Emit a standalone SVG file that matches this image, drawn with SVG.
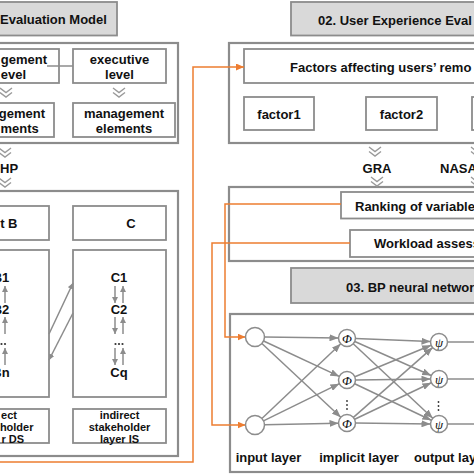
<svg xmlns="http://www.w3.org/2000/svg" width="474" height="474" viewBox="0 0 474 474">
<style>
.box{fill:#fff;stroke:#8c8c8c;stroke-width:1.8}
.outer{fill:none;stroke:#8c8c8c;stroke-width:2.2}
.title{fill:#d9d9d9;stroke:#8c8c8c;stroke-width:1.8}
.t{font-family:"Liberation Sans",Arial,sans-serif;font-weight:bold;font-size:13px;fill:#111}
.s{font-family:"Liberation Sans",Arial,sans-serif;font-weight:bold;font-size:11px;fill:#111}
.m{text-anchor:middle}
.e{text-anchor:end}
.g{font-family:"Liberation Serif","Times New Roman",serif;font-style:italic;font-size:13px;fill:#111;text-anchor:middle}
.ln{fill:none;stroke:#8c8c8c;stroke-width:1.5}
.or{fill:none;stroke:#ed7d31;stroke-width:1.5}
.chev{fill:none;stroke:#9a9a9a;stroke-width:1.4}
.node{fill:#fff;stroke:#8c8c8c;stroke-width:1.5}
.dot{fill:#333}
</style>
<defs>
<marker id="ag" markerUnits="userSpaceOnUse" markerWidth="9" markerHeight="7" refX="9" refY="3.5" orient="auto"><path d="M0,0 L9,3.5 L0,7 z" fill="#8c8c8c"/></marker>
<marker id="as" markerUnits="userSpaceOnUse" markerWidth="6" markerHeight="6" refX="6" refY="3" orient="auto"><path d="M0,0 L6,3 L0,6 z" fill="#8c8c8c"/></marker>
<marker id="ao" markerUnits="userSpaceOnUse" markerWidth="8" markerHeight="7" refX="8" refY="3.5" orient="auto"><path d="M0,0 L8,3.5 L0,7 z" fill="#ed7d31"/></marker>
<g id="chevron"><polyline points="-6,0 0,4.5 6,0"/><polyline points="-6,4.5 0,9 6,4.5"/></g>
</defs>

<!-- Left column -->
<g id="title-left"><rect class="title" x="-3" y="2" width="120" height="33.5"/><text class="t" x="0" y="24">Evaluation Model</text></g>
<rect class="outer" x="-3" y="43" width="181" height="100"/>
<g id="mgmt-level"><rect class="box" x="-50" y="49" width="109" height="34"/><text class="t e" x="47" y="64">gement</text><text class="t e" x="26" y="79">evel</text></g>
<g id="exec-level"><rect class="box" x="73" y="49" width="93" height="34"/><text class="t m" x="119.5" y="64">executive</text><text class="t m" x="119.5" y="79">level</text></g>
<g id="mgmt-elem-left"><rect class="box" x="-50" y="103" width="104" height="34"/><text class="t e" x="45" y="118">gement</text><text class="t" x="0.5" y="133">ments</text></g>
<g id="mgmt-elem-right"><rect class="box" x="73" y="103" width="102" height="34"/><text class="t m" x="124" y="118">management</text><text class="t m" x="124" y="133">elements</text></g>
<text class="t" x="0" y="172.5">HP</text>
<rect class="outer" x="-3" y="191" width="181" height="265"/>
<g id="set-b"><rect class="box" x="-50" y="206" width="99" height="34"/><text class="t e" x="17.5" y="227.5">t B</text></g>
<g id="set-c"><rect class="box" x="73" y="206" width="93" height="34"/><text class="t m" x="131" y="227.5">C</text></g>
<g id="b-list"><rect class="box" x="-50" y="250" width="99" height="147"/>
<text class="t m" x="1" y="282">B1</text><text class="t m" x="1" y="313.5">B2</text><text class="t m" x="1" y="377">Bn</text>
<circle class="dot" cx="-2" cy="344" r="1.1"/><circle class="dot" cx="1.5" cy="344" r="1.1"/><circle class="dot" cx="5" cy="344" r="1.1"/></g>
<g id="c-list"><rect class="box" x="73" y="250" width="93" height="147"/>
<text class="t m" x="119" y="282">C1</text><text class="t m" x="119" y="313.5">C2</text><text class="t m" x="119" y="377">Cq</text>
<circle class="dot" cx="115.5" cy="344" r="1.1"/><circle class="dot" cx="119" cy="344" r="1.1"/><circle class="dot" cx="122.5" cy="344" r="1.1"/></g>
<g id="ds"><rect class="box" x="-50" y="409" width="99" height="34"/><text class="s e" x="17" y="419">ect</text><text class="s e" x="33.5" y="431">holder</text><text class="s e" x="24" y="443">r DS</text></g>
<g id="is"><rect class="box" x="73" y="409" width="93" height="34"/><text class="s m" x="119.5" y="419">indirect</text><text class="s m" x="119.5" y="431">stakeholder</text><text class="s m" x="119.5" y="443">layer IS</text></g>

<!-- Right column -->
<g id="title-right"><rect class="title" x="291" y="2" width="186" height="33.5"/><text class="t" x="318" y="25">02. User Experience Eval</text></g>
<rect class="outer" x="229" y="43" width="248" height="100"/>
<g id="factors"><rect class="box" x="244" y="49" width="233" height="34"/><text class="t" x="290" y="71.5">Factors affecting users’ remo</text></g>
<g id="factor1"><rect class="box" x="244" y="97" width="70" height="33"/><text class="t m" x="279" y="118.5">factor1</text></g>
<g id="factor2"><rect class="box" x="366" y="97" width="71" height="33"/><text class="t m" x="401.5" y="118.5">factor2</text></g>
<g id="factor3"><rect class="box" x="472" y="97" width="40" height="33"/></g>
<text class="t m" x="377" y="172.5">GRA</text>
<text class="t" x="440" y="173">NASA</text>
<rect class="outer" x="229" y="187" width="248" height="74"/>
<g id="ranking"><rect class="box" x="341" y="192" width="136" height="26.5"/><text class="t" x="355" y="210.5">Ranking of variable</text></g>
<g id="workload"><rect class="box" x="350" y="230" width="127" height="27"/><text class="t" x="374" y="247.5">Workload assess</text></g>
<g id="title-bp"><rect class="title" x="291" y="268" width="186" height="35"/><text class="t" x="346" y="291.5">03. BP neural networ</text></g>
<rect class="outer" x="230" y="314" width="247" height="158"/>

<!-- chevrons -->
<g class="chev">
<use href="#chevron" x="6" y="88"/>
<use href="#chevron" x="119" y="88"/>
<use href="#chevron" x="5" y="148"/>
<use href="#chevron" x="5" y="178"/>
<use href="#chevron" x="375" y="147"/>
<use href="#chevron" x="377" y="177"/>
<use href="#chevron" x="477" y="147"/>
<use href="#chevron" x="477" y="177"/>
</g>

<!-- connectors -->
<g id="connectors">
<line class="ln" x1="47" y1="66" x2="73" y2="66"/>
<line class="ln" x1="115" y1="286" x2="115" y2="303" marker-end="url(#as)"/>
<line class="ln" x1="123" y1="303" x2="123" y2="286" marker-end="url(#as)"/>
<line class="ln" x1="115" y1="317" x2="115" y2="334" marker-end="url(#as)"/>
<line class="ln" x1="123" y1="334" x2="123" y2="317" marker-end="url(#as)"/>
<line class="ln" x1="115" y1="348" x2="115" y2="365" marker-end="url(#as)"/>
<line class="ln" x1="123" y1="365" x2="123" y2="348" marker-end="url(#as)"/>
<line class="ln" x1="5" y1="303" x2="5" y2="286" marker-end="url(#as)"/>
<line class="ln" x1="5" y1="334" x2="5" y2="317" marker-end="url(#as)"/>
<line class="ln" x1="5" y1="365" x2="5" y2="348" marker-end="url(#as)"/>
<line class="ln" x1="49" y1="334" x2="73" y2="283" marker-end="url(#as)"/>
<line class="ln" x1="73" y1="313" x2="49" y2="360" marker-end="url(#as)"/>
<path class="or" d="M-3,462 H193 V67 H244" marker-end="url(#ao)"/>
<path class="or" d="M341,204 H225 V337 H245.5" marker-end="url(#ao)"/>
<path class="or" d="M350,243 H212 V425 H245.5" marker-end="url(#ao)"/>
<line class="ln" x1="264.5" y1="337.1" x2="338.5" y2="337.9" marker-end="url(#ag)"/>
<line class="ln" x1="263.6" y1="341" x2="339.3" y2="376.4" marker-end="url(#ag)"/>
<line class="ln" x1="261.9" y1="343.5" x2="340.8" y2="417.2" marker-end="url(#ag)"/>
<line class="ln" x1="261.9" y1="418.5" x2="340.8" y2="343.8" marker-end="url(#ag)"/>
<line class="ln" x1="263.5" y1="420.8" x2="339.4" y2="383.7" marker-end="url(#ag)"/>
<line class="ln" x1="264.5" y1="424.8" x2="338.5" y2="423.2" marker-end="url(#ag)"/>
<line class="ln" x1="355.5" y1="338.4" x2="430.5" y2="341.6" marker-end="url(#ag)"/>
<line class="ln" x1="354.8" y1="341.5" x2="431.2" y2="375.5" marker-end="url(#ag)"/>
<line class="ln" x1="353.2" y1="343.8" x2="432.8" y2="418.2" marker-end="url(#ag)"/>
<line class="ln" x1="354.9" y1="376.8" x2="431.1" y2="345.2" marker-end="url(#ag)"/>
<line class="ln" x1="355.5" y1="380" x2="430.5" y2="379.1" marker-end="url(#ag)"/>
<line class="ln" x1="354.7" y1="383.7" x2="431.3" y2="420.3" marker-end="url(#ag)"/>
<line class="ln" x1="353.4" y1="417.4" x2="432.6" y2="347.6" marker-end="url(#ag)"/>
<line class="ln" x1="354.7" y1="419.3" x2="431.3" y2="382.7" marker-end="url(#ag)"/>
<line class="ln" x1="355.5" y1="423.1" x2="430.5" y2="423.9" marker-end="url(#ag)"/>
<line class="ln" x1="447.5" y1="342" x2="477" y2="342"/>
<line class="ln" x1="447.5" y1="379" x2="477" y2="379"/>
<line class="ln" x1="447.5" y1="424" x2="477" y2="424"/>
</g>

<!-- neural network nodes -->
<g id="in1"><circle class="node" cx="255" cy="337" r="9.5"/></g>
<g id="in2"><circle class="node" cx="255" cy="425" r="9.5"/></g>
<g id="phi1"><circle class="node" cx="347" cy="338" r="8.5"/><text class="g" x="347" y="342.5">Φ</text></g>
<g id="phi2"><circle class="node" cx="347" cy="380" r="8.5"/><text class="g" x="347" y="384.5">Φ</text></g>
<g id="phi3"><circle class="node" cx="347" cy="423" r="8.5"/><text class="g" x="347" y="427.5">Φ</text></g>
<g id="psi1"><circle class="node" cx="439" cy="342" r="8.5"/><text class="g" x="439" y="346.5">ψ</text></g>
<g id="psi2"><circle class="node" cx="439" cy="379" r="8.5"/><text class="g" x="439" y="383.5">ψ</text></g>
<g id="psi3"><circle class="node" cx="439" cy="424" r="8.5"/><text class="g" x="439" y="428.5">ψ</text></g>
<g id="dots"><circle class="dot" cx="347" cy="401" r="0.9"/><circle class="dot" cx="347" cy="405" r="0.9"/><circle class="dot" cx="347" cy="409" r="0.9"/>
<circle class="dot" cx="438.5" cy="402" r="0.9"/><circle class="dot" cx="438.5" cy="406" r="0.9"/><circle class="dot" cx="438.5" cy="410" r="0.9"/></g>
<text class="t m" x="268.5" y="461.5">input layer</text>
<text class="t m" x="359" y="461.5">implicit layer</text>
<text class="t" x="414" y="461.5">output lay</text>
</svg>
